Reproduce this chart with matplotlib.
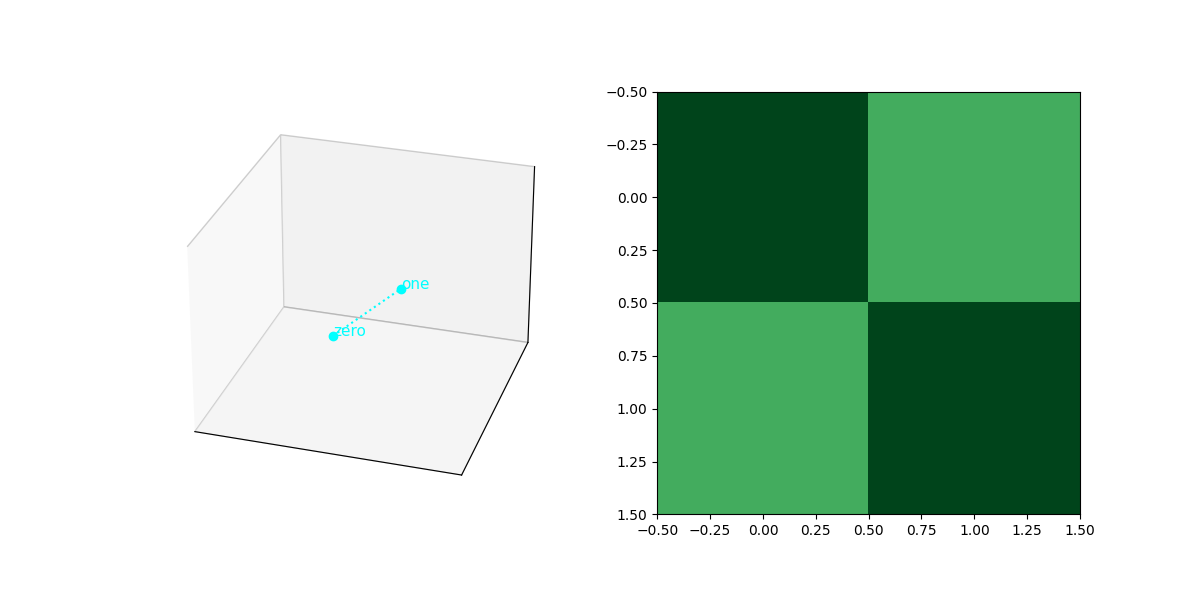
import matplotlib
matplotlib.use("Agg")
import matplotlib.pyplot as plt
import numpy as np

labels = ["zero", "one"]
xs = [0.0, 1.0]
ys = [0.0, 1.0]
zs = [0.0, 0.5]
matrix = [[1.0, 0.62], [0.62, 1.0]]

fig = plt.figure(figsize=(12, 6), dpi=100)
ax = fig.add_subplot(1, 2, 1, projection="3d")
ax.view_init(elev=28, azim=-73)
ax.plot(xs, ys, zs, "o:", color="cyan", markersize=6)
for x, y, z, t in zip(xs, ys, zs, labels):
    ax.text(x, y, z, t, color="cyan", fontsize=11)
ax.set_xlim(-2, 3); ax.set_ylim(-2, 3); ax.set_zlim(-1, 2)
ax.set_xticks([]); ax.set_yticks([]); ax.set_zticks([])
ax.grid(False)
for a in (ax.xaxis, ax.yaxis, ax.zaxis):
    a.pane.set_edgecolor("#a0a0a0")

ax2 = fig.add_subplot(1, 2, 2)
ax2.imshow(np.array(matrix), cmap="Greens", vmin=0, vmax=1)
ax2.set_xticks(np.arange(-0.5, 1.51, 0.25))
ax2.set_yticks(np.arange(-0.5, 1.51, 0.25))
fig.savefig("out.png")
